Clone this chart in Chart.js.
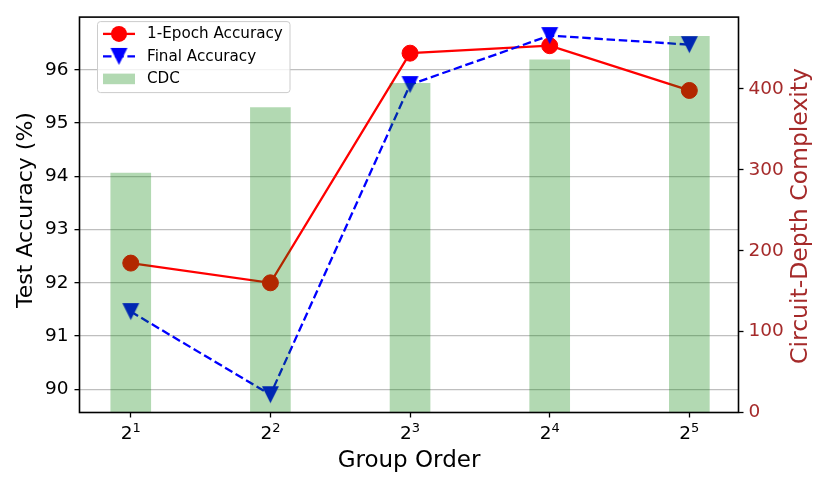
<!DOCTYPE html>
<html><head><meta charset="utf-8">
<script src="https://cdn.jsdelivr.net/npm/chart.js@4/dist/chart.umd.min.js"></script>
<style>html,body{margin:0;padding:0;background:#fff}</style>
</head><body>
<canvas id="c" width="830" height="498"></canvas>
<script>
// ---- data ----
const groupBase = '2';
const groupExponents = ['1', '2', '3', '4', '5'];
const oneEpochAccuracy = [92.37, 92.00, 96.31, 96.45, 95.61];
const finalAccuracy = [91.46, 89.90, 95.72, 96.64, 96.47];
const cdcValues = [296, 377, 407, 436, 465];
const accuracyTicks = [90, 91, 92, 93, 94, 95, 96];
const cdcTicks = [0, 100, 200, 300, 400];
const seriesLabels = ['1-Epoch Accuracy', 'Final Accuracy', 'CDC'];
const xTitle = 'Group Order';
const yTitle = 'Test Accuracy (%)';
const y2Title = 'Circuit-Depth Complexity';

const FONT = 'DejaVu Sans';
const BROWN = '#a52a2a';

function triCanvas(color, size) {
  const c = document.createElement('canvas');
  c.width = size + 2; c.height = size + 2;
  const g = c.getContext('2d');
  g.beginPath();
  g.moveTo(1, 1); g.lineTo(size + 1, 1); g.lineTo(size / 2 + 1, size + 1); g.closePath();
  g.fillStyle = color; g.fill();
  return c;
}
const blueTri = triCanvas('#0000ff', 17);

const toXY = arr => arr.map((v, i) => ({ x: i, y: v }));

const decorPlugin = {
  id: 'decor',
  afterDraw(chart) {
    const ctx = chart.ctx, a = chart.chartArea;
    const xs = chart.scales.x;
    ctx.save();
    // frame
    ctx.strokeStyle = '#000'; ctx.lineWidth = 1.6;
    ctx.strokeRect(a.left, a.top, a.right - a.left, a.bottom - a.top);
    // x tick labels 2^n
    ctx.fillStyle = '#000';
    groupExponents.forEach((e, i) => {
      const px = xs.getPixelForValue(i);
      ctx.font = '18.5px "' + FONT + '"';
      const wb = ctx.measureText(groupBase).width;
      ctx.font = '13px "' + FONT + '"';
      const we = ctx.measureText(e).width;
      const sx = px - (wb + we) / 2;
      ctx.textAlign = 'left'; ctx.textBaseline = 'alphabetic';
      ctx.font = '18.5px "' + FONT + '"';
      ctx.fillText(groupBase, sx, 439);
      ctx.font = '13px "' + FONT + '"';
      ctx.fillText(e, sx + wb, 432);
    });
    // axis titles
    ctx.textAlign = 'center';
    ctx.font = '23px "' + FONT + '"';
    ctx.textBaseline = 'alphabetic';
    ctx.fillText(xTitle, (a.left + a.right) / 2, 467);
    ctx.save();
    ctx.translate(26, 210); ctx.rotate(-Math.PI / 2);
    ctx.font = '22px "' + FONT + '"'; ctx.textBaseline = 'middle';
    ctx.fillText(yTitle, 0, 0);
    ctx.restore();
    ctx.save();
    ctx.translate(801, 216); ctx.rotate(-Math.PI / 2);
    ctx.fillStyle = BROWN;
    ctx.font = '23.5px "' + FONT + '"'; ctx.textBaseline = 'middle';
    ctx.fillText(y2Title, 0, 0);
    ctx.restore();
    // legend
    const bx = a.left + 18, by = a.top + 4.5, bw = 192.5, bh = 71;
    ctx.beginPath();
    if (ctx.roundRect) ctx.roundRect(bx, by, bw, bh, 3); else ctx.rect(bx, by, bw, bh);
    ctx.fillStyle = 'rgba(255,255,255,0.8)'; ctx.fill();
    ctx.strokeStyle = '#cccccc'; ctx.lineWidth = 1; ctx.stroke();
    chart.data.datasets.forEach((ds, i) => {
      const cy = by + 12.3 + i * 22.5;
      const hx0 = bx + 5.5, hx1 = bx + 37.5, hc = (hx0 + hx1) / 2;
      if (ds.type === 'line') {
        ctx.save();
        ctx.strokeStyle = ds.borderColor; ctx.lineWidth = ds.borderWidth;
        ctx.setLineDash(ds.borderDash || []);
        ctx.beginPath(); ctx.moveTo(hx0, cy); ctx.lineTo(hx1, cy); ctx.stroke();
        ctx.restore();
        if (ds.pointStyle === 'circle') {
          ctx.beginPath(); ctx.arc(hc, cy, ds.pointRadius, 0, Math.PI * 2);
          ctx.fillStyle = ds.pointBackgroundColor; ctx.fill();
        } else {
          const im = ds.pointStyle;
          ctx.drawImage(im, hc - im.width / 2, cy - im.height / 2);
        }
      } else {
        ctx.fillStyle = ds.backgroundColor;
        ctx.fillRect(hx0, cy - 5.3, hx1 - hx0, 10.6);
      }
      ctx.fillStyle = '#000';
      ctx.font = '15.2px "' + FONT + '"';
      ctx.textAlign = 'left'; ctx.textBaseline = 'middle';
      ctx.fillText(ds.label, bx + 49.5, cy + 0.5);
    });
    ctx.restore();
  }
};

new Chart(document.getElementById('c'), {
  type: 'bar',
  data: {
    datasets: [
      {
        type: 'line', label: seriesLabels[0], data: toXY(oneEpochAccuracy), yAxisID: 'y',
        borderColor: '#ff0000', borderWidth: 2.3, tension: 0,
        pointStyle: 'circle', pointRadius: 8, pointBorderWidth: 1,
        pointBackgroundColor: '#ff0000', pointBorderColor: '#ff0000', order: 2
      },
      {
        type: 'line', label: seriesLabels[1], data: toXY(finalAccuracy), yAxisID: 'y',
        borderColor: '#0000ff', borderWidth: 2.3, borderDash: [8.5, 3.7], tension: 0,
        pointStyle: blueTri, pointRadius: 8, order: 1
      },
      {
        type: 'bar', label: seriesLabels[2], data: toXY(cdcValues), yAxisID: 'y2',
        backgroundColor: 'rgba(0,128,0,0.3)', borderWidth: 0, barThickness: 40, order: 0
      }
    ]
  },
  options: {
    responsive: false, animation: false, devicePixelRatio: 1,
    layout: { padding: { top: 15.5, left: 0, right: 0, bottom: 0 } },
    plugins: { legend: { display: false }, tooltip: { enabled: false } },
    scales: {
      x: {
        type: 'linear', min: -0.367, max: 4.352, offset: false,
        afterBuildTicks: s => { s.ticks = groupExponents.map((e, i) => ({ value: i })); },
        afterFit: s => { s.height = 85.5; },
        grid: { display: true, drawOnChartArea: false, offset: false, drawTicks: true, tickLength: 5, tickColor: '#000', tickWidth: 1.3 },
        border: { display: false },
        ticks: { display: false }
      },
      y: {
        type: 'linear', position: 'left', min: 89.566, max: 96.987,
        afterBuildTicks: s => { s.ticks = accuracyTicks.map(v => ({ value: v })); },
        afterFit: s => { s.width = 79.5; },
        grid: { color: 'rgba(128,128,128,0.5)', lineWidth: 1.3, drawTicks: true, tickLength: 5, tickColor: '#000', tickWidth: 1.3 },
        border: { display: false },
        ticks: { color: '#000', font: { family: FONT, size: 18.5 }, padding: 6 }
      },
      y2: {
        type: 'linear', position: 'right', min: 0, max: 488.9,
        afterBuildTicks: s => { s.ticks = cdcTicks.map(v => ({ value: v })); },
        afterFit: s => { s.width = 91.5; },
        grid: { drawOnChartArea: false, drawTicks: true, tickLength: 5, tickColor: '#000', tickWidth: 1.3 },
        border: { display: false },
        ticks: { color: BROWN, font: { family: FONT, size: 18.5 }, padding: 5 }
      }
    }
  },
  plugins: [decorPlugin]
});
</script>
</body></html>
